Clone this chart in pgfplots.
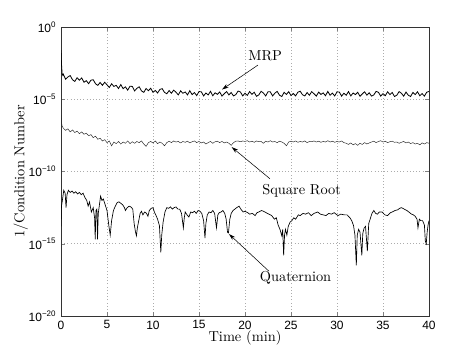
\documentclass[border=0pt]{standalone}
\usepackage{fontspec}
\usepackage{pgfplots}
\pgfplotsset{compat=1.18}
\usetikzlibrary{arrows.meta}
\newfontfamily\tickfont{Liberation Sans}
\begin{document}
\begin{tikzpicture}
\begin{axis}[
  scale only axis,
  width=276pt, height=216.75pt,
  xmin=0, xmax=40,
  ymode=log, ymin=1e-20, ymax=1,
  xtick={0,5,...,40},
  ytick={1e-20,1e-15,1e-10,1e-5,1},
  yticklabels={{10\textsuperscript{−20}},{10\textsuperscript{−15}},{10\textsuperscript{−10}},{10\textsuperscript{−5}},{10\textsuperscript{0}}},
  yminorticks=false, xminorticks=false,
  /pgf/number format/assume math mode=true,
  tick label style={font=\tickfont\fontsize{9}{10}\selectfont},
  tick align=inside, major tick length=3pt,
  xtick pos=both, ytick pos=both,
  grid=major,
  major grid style={dotted, gray!65, line width=0.45pt},
  axis line style={line width=0.6pt, black!80},
  xlabel={Time (min)},
  ylabel={1/Condition Number},
  label style={font=\fontsize{10.8}{12}\selectfont},
  xlabel style={at={(axis description cs:0.5,-0.076)}, anchor=center},
  ylabel style={at={(axis description cs:-0.109,0.5)}, anchor=center},
  clip=true,
]
% MRP
\addplot[black, line width=0.6pt] coordinates {
(0,2.5e-2) (0.05,3e-3) (0.12,6e-4) (0.2,4.5e-4)
(0.25,54e-5) (0.5,24.5e-5) (0.75,35e-5) (1.0,43.5e-5) (1.25,22.4e-5) (1.5,17.2e-5) (1.75,31e-5) (2.0,20.7e-5)
(2.25,30e-5) (2.5,15e-5) (2.75,19.4e-5) (3.0,11.9e-5) (3.25,20.8e-5) (3.5,22.5e-5) (3.75,11.9e-5) (4.0,9.1e-5)
(4.25,14.6e-5) (4.5,9.2e-5) (4.75,15e-5) (5.0,10e-5) (5.25,6.5e-5) (5.5,11.7e-5) (5.75,7.7e-5) (6.0,9.2e-5)
(6.25,5.5e-5) (6.5,10.4e-5) (6.75,5.4e-5) (7.0,7.2e-5) (7.25,4.3e-5) (7.5,8.0e-5) (7.75,7.7e-5) (8.0,3.8e-5)
(8.25,5.7e-5) (8.5,7.3e-5) (8.75,3.8e-5) (9.0,3.0e-5) (9.25,5.6e-5) (9.5,3.9e-5) (9.75,5.8e-5) (10.0,3.0e-5)
(10.25,4.1e-5) (10.5,2.7e-5) (10.75,4.8e-5) (11.0,5.4e-5) (11.25,3.0e-5) (11.5,2.4e-5) (11.75,4.0e-5) (12.0,2.6e-5)
(12.25,4.3e-5) (12.5,3.05e-5) (12.75,2.0e-5) (13.0,3.8e-5) (13.25,2.6e-5) (13.5,3.2e-5) (13.75,2.0e-5) (14.0,3.9e-5)
(14.25,2.1e-5) (14.5,2.9e-5) (14.75,1.8e-5) (15.0,3.4e-5) (15.25,3.3e-5) (15.5,1.7e-5) (15.75,2.7e-5) (16.0,2.0e-5)
(16.25,3.55e-5) (16.5,1.75e-5) (16.75,2.8e-5) (17.0,2.2e-5) (17.25,3.2e-5) (17.5,1.65e-5) (17.75,2.45e-5) (18.0,3.4e-5)
(18.25,2.0e-5) (18.5,2.9e-5) (18.75,1.7e-5) (19.0,2.1e-5) (19.25,3.7e-5) (19.5,3.2e-5) (19.75,1.7e-5) (20.0,2.6e-5)
(20.25,1.85e-5) (20.5,3.4e-5) (20.75,2.2e-5) (21.0,3.05e-5) (21.25,1.6e-5) (21.5,2.0e-5) (21.75,3.55e-5) (22.0,2.7e-5)
(22.25,1.7e-5) (22.5,3.3e-5) (22.75,3.25e-5) (23.0,1.7e-5) (23.25,2.65e-5) (23.5,3.5e-5) (23.75,1.9e-5) (24.0,1.55e-5)
(24.25,3.0e-5) (24.5,2.15e-5) (24.75,3.35e-5) (25.0,1.8e-5) (25.25,2.5e-5) (25.5,1.7e-5) (25.75,3.1e-5) (26.0,3.6e-5)
(26.25,2.05e-5) (26.5,1.7e-5) (26.75,2.9e-5) (27.0,1.9e-5) (27.25,3.35e-5) (27.5,2.4e-5) (27.75,1.65e-5) (28.0,3.1e-5)
(28.25,2.15e-5) (28.5,2.75e-5) (28.75,1.75e-5) (29.0,3.5e-5) (29.25,1.9e-5) (29.5,2.65e-5) (29.75,1.7e-5) (30.0,3.25e-5)
(30.25,3.15e-5) (30.5,1.65e-5) (30.75,2.6e-5) (31.0,1.9e-5) (31.25,3.4e-5) (31.5,1.7e-5) (31.75,2.7e-5) (32.0,2.1e-5)
(32.25,3.05e-5) (32.5,1.6e-5) (32.75,2.35e-5) (33.0,3.3e-5) (33.25,1.9e-5) (33.5,2.8e-5) (33.75,1.65e-5) (34.0,2.0e-5)
(34.25,3.5e-5) (34.5,3.05e-5) (34.75,1.65e-5) (35.0,2.45e-5) (35.25,1.75e-5) (35.5,3.3e-5) (35.75,2.1e-5) (36.0,2.95e-5)
(36.25,1.55e-5) (36.5,1.9e-5) (36.75,3.4e-5) (37.0,2.6e-5) (37.25,1.65e-5) (37.5,3.15e-5) (37.75,1.9e-5) (38.0,1.55e-5)
(38.25,2.95e-5) (38.5,2.1e-5) (38.75,3.3e-5) (39.0,1.75e-5) (39.25,2.45e-5) (39.5,1.65e-5) (39.75,3.05e-5) (40.0,3.5e-5)
};
% Square Root
\addplot[black!85, line width=0.35pt] coordinates {
(0,7.9e-7) (0.1,150e-9) (0.25,100e-9) (0.5,70e-9) (0.75,90e-9) (1.0,55e-9) (1.25,75e-9) (1.5,50e-9)
(1.75,62e-9) (2.0,42e-9) (2.25,55e-9) (2.5,38e-9) (2.75,45e-9) (3.0,30e-9) (3.25,36e-9) (3.5,22e-9)
(3.75,28e-9) (4.0,17e-9) (4.25,20e-9) (4.5,13e-9) (4.75,16e-9) (5.0,10e-9) (5.25,13e-9) (5.5,6e-9)
(5.75,11e-9) (6.0,8.5e-9) (6.25,12e-9) (6.5,8e-9) (6.75,11e-9) (7.0,9e-9) (7.25,13e-9) (7.5,8.5e-9)
(7.75,11.5e-9) (8.0,9e-9) (8.25,12e-9) (8.5,10e-9) (8.75,13e-9) (9.0,8e-9) (9.25,5.5e-9) (9.5,10e-9)
(9.75,12e-9) (10.0,9.5e-9) (10.25,13e-9) (10.5,8.5e-9) (10.75,11e-9) (11.0,9e-9) (11.25,6e-9) (11.5,10e-9)
(11.75,12.5e-9) (12.0,10e-9) (12.25,13e-9) (12.5,11e-9) (12.75,12e-9) (13.0,9.5e-9) (13.25,12e-9) (13.5,10.5e-9)
(13.75,12.5e-9) (14.0,9.5e-9) (14.25,11.5e-9) (14.5,13e-9) (14.75,10e-9) (15.0,12e-9) (15.25,9.5e-9) (15.5,11e-9)
(15.75,8e-9) (16.0,10e-9) (16.25,12e-9) (16.5,9e-9) (16.75,11.5e-9) (17.0,12.5e-9) (17.25,10e-9) (17.5,12e-9)
(17.75,9.5e-9) (18.0,11e-9) (18.25,9e-9) (18.5,6.5e-9) (18.75,10e-9) (19.0,12.5e-9) (19.25,13e-9) (19.5,11.5e-9)
(19.75,13e-9) (20.0,12e-9) (20.25,13.5e-9) (20.5,11e-9) (20.75,12.5e-9) (21.0,10.5e-9) (21.25,13e-9) (21.5,11.5e-9)
(21.75,12e-9) (22.0,9e-9) (22.25,12.5e-9) (22.5,11e-9) (22.75,13.5e-9) (23.0,11e-9) (23.25,12e-9) (23.5,10e-9)
(23.75,12.5e-9) (24.0,11e-9) (24.25,9e-9) (24.5,6e-9) (24.75,11e-9) (25.0,12.5e-9) (25.25,11e-9) (25.5,13e-9)
(25.75,10.5e-9) (26.0,12e-9) (26.25,11e-9) (26.5,13e-9) (26.75,10e-9) (27.0,12e-9) (27.25,11.5e-9) (27.5,13e-9)
(27.75,11e-9) (28.0,12.5e-9) (28.25,10.5e-9) (28.5,12e-9) (28.75,11e-9) (29.0,13.5e-9) (29.25,11e-9) (29.5,12.5e-9)
(29.75,10.5e-9) (30.0,12e-9) (30.25,11e-9) (30.5,13e-9) (30.75,10e-9) (31.0,9e-9) (31.25,7.5e-9) (31.5,9.5e-9)
(31.75,7e-9) (32.0,8.5e-9) (32.25,6.5e-9) (32.5,9e-9) (32.75,7.5e-9) (33.0,10e-9) (33.25,8e-9) (33.5,9.5e-9)
(33.75,11e-9) (34.0,12.5e-9) (34.25,10e-9) (34.5,12e-9) (34.75,13.5e-9) (35.0,11e-9) (35.25,12.5e-9) (35.5,10e-9)
(35.75,11.5e-9) (36.0,12.5e-9) (36.25,10.5e-9) (36.5,11e-9) (36.75,9e-9) (37.0,10.5e-9) (37.25,12e-9) (37.5,9.5e-9)
(37.75,11e-9) (38.0,8.5e-9) (38.25,10e-9) (38.5,8e-9) (38.75,9e-9) (39.0,7e-9) (39.25,9.5e-9) (39.5,8e-9)
(39.75,10e-9) (40.0,9e-9)
};
% Quaternion
\addplot[black, line width=0.5pt] coordinates {
(0.0,1.58e-14) (0.05,3.98e-13) (0.15,1e-12) (0.3,5.01e-12) (0.45,3.16e-12) (0.55,3.16e-13) (0.65,2.51e-12) (0.8,5.01e-12)
(1.0,3.55e-12) (1.2,4.47e-12) (1.4,3.16e-12) (1.6,3.98e-12) (1.8,2.82e-12) (2.0,3.55e-12) (2.2,2.51e-12) (2.4,3.16e-12)
(2.6,1.58e-12) (2.8,1e-12) (2.95,3.98e-13) (3.1,7.94e-13) (3.3,1.58e-13) (3.5,3.16e-13) (3.65,6.31e-14) (3.72,2.0e-15)
(3.8,2.0e-13) (3.9,2.51e-13) (3.97,2.0e-15) (4.05,1.26e-13) (4.2,6.31e-13) (4.3,2.0e-12) (4.45,1e-12) (4.6,1.26e-12)
(4.8,5.01e-13) (5.0,2.0e-13) (5.2,1.78e-14) (5.35,3.98e-15) (5.5,3.98e-14) (5.7,2.0e-13) (5.9,3.98e-13) (6.1,7.08e-13)
(6.3,7.94e-13) (6.5,6.31e-13) (6.7,5.01e-13) (6.9,3.16e-13) (7.0,2.0e-13) (7.2,3.16e-13) (7.4,3.98e-13) (7.6,3.55e-13)
(7.8,2.51e-13) (7.95,2.51e-14) (8.1,6.31e-15) (8.2,3.55e-15) (8.3,1.26e-14) (8.45,3.98e-14) (8.6,1.26e-13) (8.75,1.78e-13)
(8.9,1e-13) (9.1,1.58e-13) (9.3,1.26e-13) (9.45,7.94e-14) (9.6,2.0e-13) (9.8,2.82e-13) (10.0,3.16e-13) (10.15,1.58e-13)
(10.3,1e-13) (10.5,5.01e-14) (10.7,1.78e-14) (10.85,2.51e-16) (10.95,3.98e-15) (11.1,3.16e-14) (11.3,1.58e-13) (11.5,3.16e-13)
(11.7,2.82e-13) (11.9,3.55e-13) (12.1,2.51e-13) (12.3,3.16e-13) (12.5,3.55e-13) (12.7,2.51e-13) (12.9,2.51e-13) (13.1,1.26e-13)
(13.3,1.26e-14) (13.4,6.31e-14) (13.5,1.58e-13) (13.7,1e-13) (13.9,7.08e-14) (14.1,1.58e-13) (14.3,1.41e-13) (14.5,1.78e-13)
(14.7,1.26e-13) (14.9,2.0e-13) (15.1,1.78e-13) (15.3,1.26e-13) (15.5,3.98e-14) (15.65,2.51e-15) (15.75,2.51e-14) (15.9,1e-13)
(16.1,1.58e-13) (16.3,1.41e-13) (16.5,2.0e-13) (16.7,1.26e-13) (16.9,1.26e-14) (17.05,1e-13) (17.2,1.41e-13) (17.4,1.58e-13)
(17.6,2.0e-13) (17.8,1.26e-13) (17.95,5.01e-14) (18.1,6.31e-15) (18.2,5.62e-15) (18.35,5.01e-14) (18.5,1.26e-13) (18.7,2.0e-13)
(18.9,2.51e-13) (19.1,3.16e-13) (19.35,3.98e-13) (19.6,2.24e-13) (19.8,1.58e-13) (20.0,1.78e-13) (20.3,1.41e-13) (20.5,1.12e-13)
(20.8,1.26e-13) (21.1,8.91e-14) (21.3,1.41e-13) (21.5,1.58e-13) (21.8,2.0e-13) (22.0,1.78e-13) (22.3,1.41e-13) (22.6,1.12e-13)
(22.9,8.91e-14) (23.2,5.01e-14) (23.4,6.31e-14) (23.6,2.0e-14) (23.8,1e-14) (24.0,3.55e-15) (24.1,1e-14) (24.2,1.58e-16)
(24.3,3.98e-15) (24.4,1e-14) (24.55,3.98e-15) (24.7,1.58e-14) (24.9,3.16e-14) (25.1,3.98e-14) (25.3,6.31e-14) (25.5,5.01e-14)
(25.8,1e-13) (26.0,8.91e-14) (26.3,1.26e-13) (26.6,1.12e-13) (26.9,1.41e-13) (27.2,8.91e-14) (27.5,1.26e-13) (27.9,1.58e-13)
(28.2,1.12e-13) (28.5,1e-13) (28.8,8.91e-14) (29.1,1.26e-13) (29.4,1.12e-13) (29.7,1.41e-13) (30.1,8.91e-14) (30.4,1.12e-13)
(30.8,1e-13) (31.1,1e-13) (31.4,6.31e-14) (31.6,3.98e-14) (31.8,1.78e-14) (31.95,3.98e-15) (32.1,3.16e-17) (32.2,3.98e-15)
(32.35,1e-14) (32.5,6.31e-15) (32.7,1.58e-16) (32.8,5.01e-15) (32.95,1.26e-14) (33.1,1.58e-14) (33.3,3.16e-16) (33.45,2.51e-14)
(33.6,5.01e-14) (33.8,1.26e-13) (34.0,2.0e-13) (34.2,1.26e-13) (34.4,1.12e-13) (34.6,1.58e-13) (34.9,1.58e-13) (35.2,1e-13)
(35.5,8.91e-14) (35.8,1.41e-13) (36.0,1.58e-13) (36.3,2.0e-13) (36.6,2.24e-13) (36.8,2.82e-13) (37.0,3.16e-13) (37.3,2.51e-13)
(37.6,2.0e-13) (37.9,1.41e-13) (38.1,1.12e-13) (38.3,1e-13) (38.5,7.94e-14) (38.7,5.01e-14) (38.8,1.26e-14) (38.95,5.01e-14)
(39.1,3.98e-14) (39.3,3.98e-14) (39.5,2.0e-14) (39.6,1.58e-15) (39.7,1e-15) (39.8,6.31e-15) (39.9,2.0e-14) (40.0,3.98e-14)
};
% annotations
\node[font=\fontsize{10.8}{12}\selectfont] at (axis cs:22.2,1e-2) {MRP};
\draw[-{Stealth[length=5pt,width=3pt]}, line width=0.4pt] (axis cs:21.4,2.3e-3) -- (axis cs:17.5,4.7e-5);
\node[font=\fontsize{10.8}{12}\selectfont] at (axis cs:26.16,4.8e-12) {Square Root};
\draw[-{Stealth[length=5pt,width=3pt]}, line width=0.4pt] (axis cs:22.7,3.2e-11) -- (axis cs:18.55,4.9e-9);
\node[font=\fontsize{10.8}{12}\selectfont] at (axis cs:25.5,4.2e-18) {Quaternion};
\draw[-{Stealth[length=5pt,width=3pt]}, line width=0.4pt] (axis cs:22.6,1.26e-17) -- (axis cs:18.26,4.7e-15);
\coordinate (ll) at (rel axis cs:0,0);
\coordinate (ur) at (rel axis cs:1,1);
\end{axis}
\pgfresetboundingbox
\path ([xshift=-45.75pt,yshift=-29.25pt]ll) rectangle ([xshift=33.75pt,yshift=20.25pt]ur);
\end{tikzpicture}
\end{document}
